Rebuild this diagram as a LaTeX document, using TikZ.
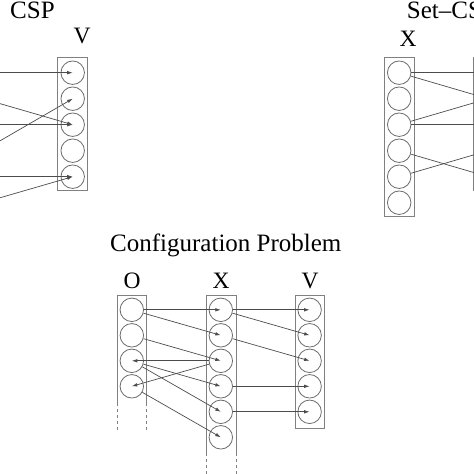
\documentclass[tikz,border=0pt]{standalone}
\usepackage{fontspec}
\setmainfont{Liberation Serif}
\usetikzlibrary{arrows.meta}
\begin{document}
\begin{tikzpicture}[x=1pt,y=-1pt,
  colbox/.style={draw=black!50,line width=0.8pt},
  cell/.style={circle,draw=black!58,line width=0.8pt,minimum size=23.5pt,inner sep=0pt},
  conn/.style={draw=black!70,line width=0.7pt,-{Latex[length=5.5pt,width=3.6pt]}},
  title/.style={font=\fontsize{25}{30}\selectfont,inner sep=0pt},
  lab/.style={font=\fontsize{23.5}{28}\selectfont,inner sep=0pt,anchor=base}]
\useasboundingbox (0,0) rectangle (474,474);
\clip (0,0) rectangle (474,474);
% ---------- CSP ----------
\node[title,anchor=base west] (tcsp) at (10,18) {CSP};
\node[lab] (lcv) at (82,43.3) {V};
\draw[colbox] (-32,57.3) rectangle (-2,216.7);
\draw[colbox] (57.7,57.3) rectangle (87.7,190.7);
\foreach \i in {1,...,6} \node[cell] (cx\i) at (-17,{72.7+26*(\i-1)}) {};
\foreach \i in {1,...,5} \node[cell] (cv\i) at (72.7,{72.7+26*(\i-1)}) {};
\draw[conn] (cx1) -- (cv1.center);
\draw[conn] (cx2) -- (cv3.center);
\draw[conn] (cx3) -- (cv3.center);
\draw[conn] (cx4) -- (cv2.center);
\draw[conn] (cx5) -- (cv5.center);
\draw[conn] (cx6) -- (cv5.center);
% ---------- Set-CSP ----------
\node[title,anchor=base west] (tset) at (406.7,18) {Set–CSP};
\node[lab] (lsx) at (408,46.5) {X};
\draw[colbox] (384,57.3) rectangle (414.3,216.7);
\draw[colbox] (473,57.3) rectangle (503,190.7);
\foreach \i in {1,...,6} \node[cell] (sx\i) at (399.2,{72.7+26*(\i-1)}) {};
\foreach \i in {1,...,5} \node[cell] (sv\i) at (488,{72.7+26*(\i-1)}) {};
\draw[conn] (sx1) -- (sv1.center);
\draw[conn] (sx1) -- (sv2.center);
\draw[conn] (sx3) -- (sv2.center);
\draw[conn] (sx3) -- (sv3.center);
\draw[conn] (sx4) -- (sv5.center);
\draw[conn] (sx5) -- (sv4.center);
% ---------- Configuration Problem ----------
\node[title,anchor=base] (tconf) at (225.8,251.7) {Configuration Problem};
\node[lab] (lo) at (132,288.3) {O};
\node[lab] (lx) at (221,288.3) {X};
\node[lab] (lv) at (310,288.3) {V};
% O column (open at bottom)
\draw[colbox] (117.3,403) -- (117.3,295) -- (146.7,295) -- (146.7,403);
\draw[colbox,dashed] (117.3,403) -- (117.3,430);
\draw[colbox,dashed] (146.7,403) -- (146.7,430);
% X column (open at bottom)
\draw[colbox] (206,453) -- (206,295) -- (236,295) -- (236,453);
\draw[colbox,dashed] (206,453) -- (206,474);
\draw[colbox,dashed] (236,453) -- (236,474);
% V column
\draw[colbox] (295,295) rectangle (324.5,428.3);
\foreach \i in {1,...,4} \node[cell] (o\i) at (131.8,{309.8+25.5*(\i-1)}) {};
\foreach \i in {1,...,6} \node[cell] (x\i) at (220.8,{309.8+25.5*(\i-1)}) {};
\foreach \i in {1,...,5} \node[cell] (v\i) at (309.6,{309.8+25.5*(\i-1)}) {};
\draw[conn] (o1) -- (x1.center);
\draw[conn] (o1) -- (x2.center);
\draw[conn] (o2) -- (x3.center);
\draw[conn] (x3) -- (o3.center);
\draw[conn] (x3) -- (o4.center);
\draw[conn] (o3) -- (x4.center);
\draw[conn] (o3) -- (x5.center);
\draw[conn] (o4) -- (x6.center);
\draw[conn] (x1) -- (v1.center);
\draw[conn] (x1) -- (v2.center);
\draw[conn] (x2) -- (v3.center);
\draw[conn] (x4) -- (v4.center);
\draw[conn] (x5) -- (v5.center);
\end{tikzpicture}
\end{document}
